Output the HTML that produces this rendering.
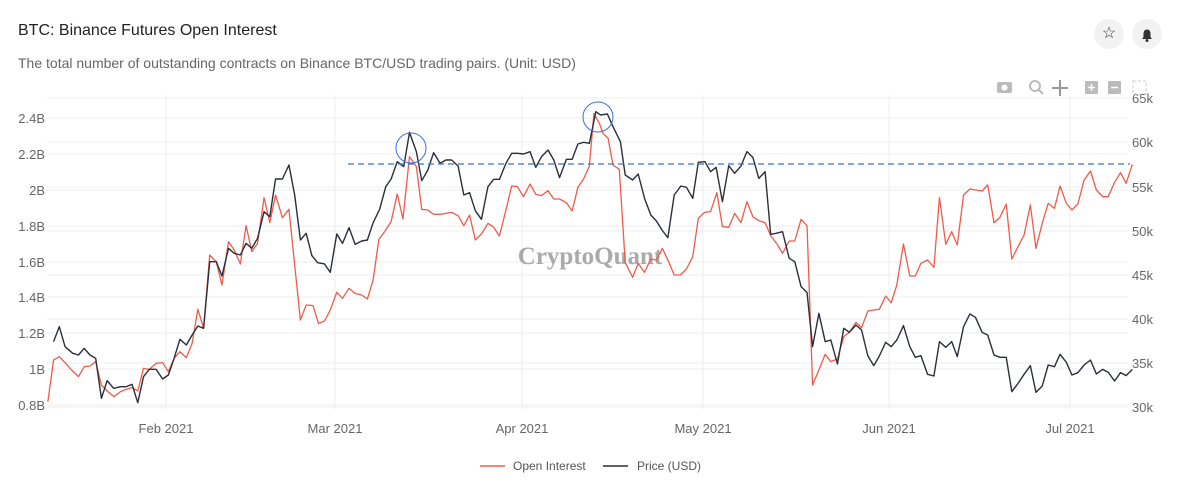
<!DOCTYPE html>
<html><head><meta charset="utf-8"><style>
body{margin:0;background:#fff;width:1182px;height:500px;overflow:hidden;font-family:"Liberation Sans",sans-serif}
.t{position:absolute;left:18px;top:22px;font-size:16px;color:#222}
.s{position:absolute;left:18px;top:55px;font-size:14px;color:#666}
.b{position:absolute;top:19px;width:30px;height:30px;border-radius:50%;background:#f2f2f2;text-align:center;line-height:30px;font-size:16px;color:#333}
</style></head><body>
<div class="t">BTC: Binance Futures Open Interest</div>
<div class="s">The total number of outstanding contracts on Binance BTC/USD trading pairs. (Unit: USD)</div>
<div class="b" style="left:1094px">☆</div>
<div class="b" style="left:1132px"><svg width="30" height="30"><path d="M10 20h10l-1.5-2v-4a3.5 3.5 0 0 0-7 0v4z" fill="#333"/><circle cx="15" cy="21.5" r="1.5" fill="#333"/></svg></div>
<svg width="1182" height="500" style="position:absolute;left:0;top:0" font-family="Liberation Sans, sans-serif">
<g stroke="#eee" stroke-width="1">
<line x1="47" x2="1128" y1="118" y2="118"/><line x1="47" x2="1128" y1="154" y2="154"/><line x1="47" x2="1128" y1="190" y2="190"/><line x1="47" x2="1128" y1="226" y2="226"/><line x1="47" x2="1128" y1="262" y2="262"/><line x1="47" x2="1128" y1="297" y2="297"/><line x1="47" x2="1128" y1="333" y2="333"/><line x1="47" x2="1128" y1="369" y2="369"/><line x1="47" x2="1128" y1="405" y2="405"/>
<line x1="47" x2="1128" y1="98" y2="98"/><line x1="47" x2="1128" y1="142" y2="142"/><line x1="47" x2="1128" y1="187" y2="187"/><line x1="47" x2="1128" y1="231" y2="231"/><line x1="47" x2="1128" y1="275" y2="275"/><line x1="47" x2="1128" y1="319" y2="319"/><line x1="47" x2="1128" y1="363" y2="363"/><line x1="47" x2="1128" y1="407" y2="407"/>
<line x1="166" x2="166" y1="95" y2="410"/><line x1="335" x2="335" y1="95" y2="410"/><line x1="522" x2="522" y1="95" y2="410"/><line x1="703" x2="703" y1="95" y2="410"/><line x1="889" x2="889" y1="95" y2="410"/><line x1="1070" x2="1070" y1="95" y2="410"/>
</g>
<g font-size="13" fill="#666" text-anchor="end">
<text x="45" y="123">2.4B</text><text x="45" y="159">2.2B</text><text x="45" y="195">2B</text><text x="45" y="231">1.8B</text><text x="45" y="267">1.6B</text><text x="45" y="302">1.4B</text><text x="45" y="338">1.2B</text><text x="45" y="374">1B</text><text x="45" y="410">0.8B</text>
</g>
<g font-size="13" fill="#666">
<text x="1132" y="103">65k</text><text x="1132" y="147">60k</text><text x="1132" y="192">55k</text><text x="1132" y="236">50k</text><text x="1132" y="280">45k</text><text x="1132" y="324">40k</text><text x="1132" y="368">35k</text><text x="1132" y="412">30k</text>
</g>
<g font-size="13" fill="#666" text-anchor="middle">
<text x="166" y="433">Feb 2021</text><text x="335" y="433">Mar 2021</text><text x="522" y="433">Apr 2021</text><text x="703" y="433">May 2021</text><text x="889" y="433">Jun 2021</text><text x="1070" y="433">Jul 2021</text>
</g>
<text x="590" y="264" font-family="Liberation Serif, serif" font-size="25" fill="#aaa" text-anchor="middle" font-weight="bold">CryptoQuant</text>
<g fill="none" stroke-linejoin="round">
<g transform="translate(0,80) scale(0.3827,0.33333)">
<polyline vector-effect="non-scaling-stroke" stroke="#ef5b4a" stroke-width="1.3" points="125,965 140,840 155,830 170,848 187,870 205,890 220,860 235,858 250,845 265,915 282,935 298,950 315,935 330,928 345,923 360,933 375,865 390,868 408,850 425,848 440,875 455,835 470,815 487,833 502,790 517,688 532,745 548,525 565,545 580,615 597,485 612,510 628,552 643,437 658,515 673,490 690,353 705,428 720,345 738,413 755,388 770,555 785,720 800,675 818,677 832,730 848,723 863,690 880,637 895,655 912,625 928,640 945,645 960,657 975,600 990,478 1005,455 1022,425 1038,342 1053,417 1070,230 1088,260 1102,388 1118,390 1133,403 1150,403 1165,400 1180,397 1197,407 1212,437 1227,405 1242,480 1258,462 1275,430 1290,442 1305,468 1322,390 1337,318 1352,320 1368,350 1385,312 1400,343 1415,347 1432,332 1447,357 1462,357 1480,368 1495,393 1510,322 1525,297 1540,258 1552,100 1568,135"/>
<polyline vector-effect="non-scaling-stroke" stroke="#2b2f3a" stroke-width="1.4" points="140,785 155,740 170,800 190,820 205,825 220,805 235,825 250,835 265,955 280,902 297,925 315,920 330,920 345,913 360,968 375,890 390,868 408,868 425,897 440,885 455,835 470,778 487,795 502,765 517,738 532,745 548,545 565,545 580,588 597,505 612,520 628,525 643,490 658,505 673,475 690,395 705,410 720,297 738,297 755,255 770,345 785,480 800,460 815,527 830,548 848,552 863,577 880,462 895,490 912,443 928,493 945,483 960,480 975,428 992,388 1008,320 1022,297 1038,245 1055,260 1070,157 1088,215 1102,302 1118,270 1133,218 1150,250 1165,240 1180,240 1197,258 1212,345 1227,338 1242,392 1258,418 1275,320 1290,298 1305,298 1322,250 1337,220 1352,220 1368,222 1385,215 1400,262 1415,230 1432,210 1447,240 1462,293 1480,238 1495,238 1510,192 1525,187 1540,190 1557,95 1568,104"/>
</g>
<g transform="translate(600,80) scale(0.371,0.33333)">
<polyline vector-effect="non-scaling-stroke" stroke="#ef5b4a" stroke-width="1.3" points="0,135 8,160 22,175 35,255 52,268 68,548 88,592 103,550 120,577 137,537 152,540 168,505 185,545 200,585 217,585 233,567 250,530 265,415 282,397 298,395 315,338 330,440 347,442 363,400 380,428 396,365 412,410 428,422 445,428 460,467 477,492 492,520 510,483 525,483 542,418 558,437 573,915 590,870 607,823 622,845 640,837 657,770 672,757 690,727 705,743 722,693 738,690 753,688 770,648 785,668 800,615 818,492 835,588 850,588 865,550 883,540 900,562 915,353 932,493 948,455 963,495 980,345 997,327 1012,330 1030,333 1045,315 1062,428 1078,412 1095,372 1110,537 1127,500 1143,465 1160,375 1175,505 1192,430 1208,370 1225,385 1240,318 1257,370 1272,390 1288,372 1305,300 1322,273 1338,330 1355,350 1370,350 1387,307 1403,278 1418,310 1435,253"/>
<polyline vector-effect="non-scaling-stroke" stroke="#2b2f3a" stroke-width="1.4" points="0,105 20,102 35,140 55,185 68,285 88,300 103,282 120,355 137,405 152,423 167,450 183,473 200,345 218,318 233,322 250,355 265,247 283,245 298,275 313,262 330,365 347,257 363,280 380,258 396,215 412,232 428,295 445,275 460,463 475,460 492,455 510,535 525,545 542,620 558,637 573,800 590,700 607,785 622,780 640,852 657,745 672,757 690,735 705,750 722,828 738,857 753,828 770,787 785,800 800,780 818,737 835,800 850,832 865,827 883,883 900,888 915,785 932,802 948,785 963,830 980,740 997,702 1012,712 1030,757 1045,765 1062,825 1078,832 1095,832 1110,935 1127,910 1143,883 1160,857 1175,937 1192,918 1208,855 1225,860 1240,823 1257,847 1272,885 1288,878 1305,855 1322,840 1338,882 1355,868 1370,877 1387,903 1403,878 1418,887 1435,868"/>
</g>
<line x1="348" x2="1130" y1="164" y2="164" stroke="#3a6fd8" stroke-width="1.2" stroke-dasharray="6,4"/>
<circle cx="411" cy="148" r="15" stroke="#3a6fd8" stroke-width="1"/>
<circle cx="598" cy="117" r="15" stroke="#3a6fd8" stroke-width="1"/>
</g>
<g fill="#bbb" font-size="14">
<rect x="997" y="82" width="15" height="11" rx="2"/><circle cx="1004.5" cy="87.5" r="3" fill="#fff"/>
<circle cx="1035" cy="86" r="5" fill="none" stroke="#bbb" stroke-width="2"/><line x1="1039" y1="90" x2="1043" y2="94" stroke="#bbb" stroke-width="2"/>
<path d="M1060 80v16M1052 88h16" stroke="#999" stroke-width="2"/>
<rect x="1085" y="81" width="13" height="13" rx="1"/><rect x="1108" y="81" width="13" height="13" rx="1"/>
<path d="M1088 87.5h7M1091.5 84v7" stroke="#fff" stroke-width="1.5"/><path d="M1111 87.5h7" stroke="#fff" stroke-width="1.5"/>
<rect x="1133" y="81" width="13" height="13" fill="none" stroke="#ccc" stroke-dasharray="3,2"/>
</g>
<line x1="480" x2="505" y1="466" y2="466" stroke="#ef5b4a" stroke-width="1.5"/>
<text x="513" y="470" font-size="12" fill="#555">Open Interest</text>
<line x1="603" x2="628" y1="466" y2="466" stroke="#2b2f3a" stroke-width="1.5"/>
<text x="637" y="470" font-size="12" fill="#555">Price (USD)</text>
</svg>
</body></html>
